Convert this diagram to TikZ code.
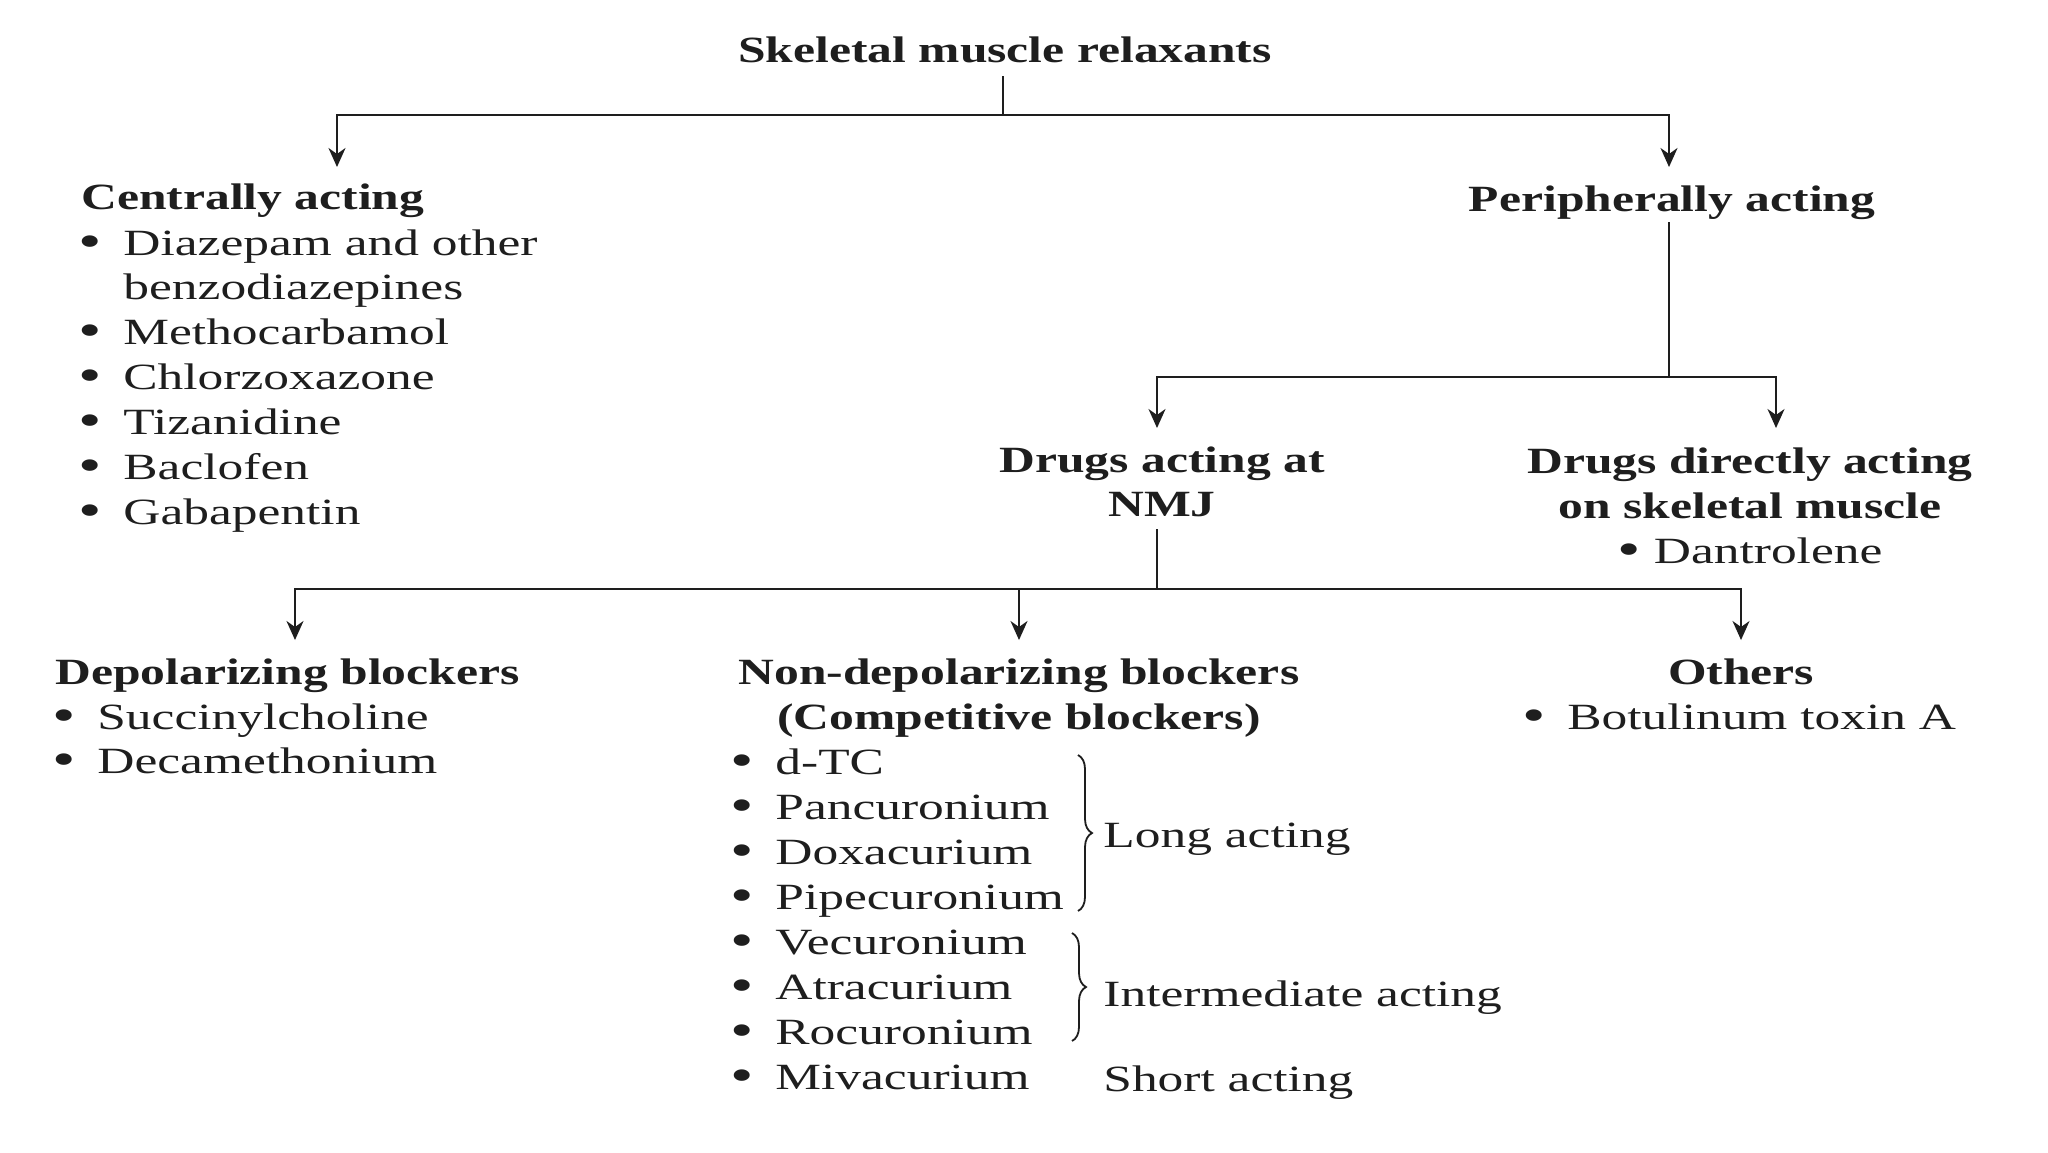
\documentclass[tikz,border=0pt]{standalone}
\usepackage{graphicx}
\usepackage{fontspec}
\setmainfont[FakeStretch=1.39]{Liberation Serif}
\newfontfamily\hdfont[FakeStretch=1.34]{Liberation Serif}
\usetikzlibrary{arrows.meta,decorations.pathreplacing}
\definecolor{ink}{HTML}{1E1E1E}
\newcommand\fsz{\fontsize{18.5}{22.5}\selectfont}
\newcommand\bigbul{\raisebox{-1.2pt}{\scalebox{1.3}{\textbullet}}}
\newcommand\bul{\makebox[22.5pt][l]{\bigbul}}
\tikzset{
  hdc/.style={inner sep=0pt, anchor=base, text=ink, font=\fsz\hdfont\bfseries},
  hdl/.style={hdc, anchor=base west},
  itm/.style={inner sep=0pt, anchor=base west, text=ink, font=\fsz},
  itc/.style={itm, anchor=base},
  conn/.style={draw=ink, line width=1pt},
  arr/.style={conn, -{Stealth[length=9.5pt,width=8.5pt,inset=3pt]}},
  brc/.style={draw=ink, line width=0.9pt, decorate, decoration={brace, amplitude=7pt}}
}
\begin{document}
\begin{tikzpicture}[x=0.5pt, y=-0.5pt]
\useasboundingbox[fill=white] (0,0) rectangle (2048,1152);

% headings and text
\node[hdc] (title) at (1005,62) {Skeletal muscle relaxants};

\node[hdl] (cen) at (81,209) {Centrally acting};
\node[itm] (c1) at (78,255) {\bul Diazepam and other};
\node[itm] (c1b) at (123,299) {benzodiazepines};
\node[itm] (c2) at (78,344) {\bul Methocarbamol};
\node[itm] (c3) at (78,389) {\bul Chlorzoxazone};
\node[itm] (c4) at (78,434) {\bul Tizanidine};
\node[itm] (c5) at (78,479) {\bul Baclofen};
\node[itm] (c6) at (78,524) {\bul Gabapentin};

\node[hdc] (per) at (1672,211) {Peripherally acting};

\node[hdc] (nmj) at (1162,472) {Drugs acting at};
\node[hdc] (nmjb) at (1162,516) {NMJ};

\node[hdc] (dir) at (1750,473) {Drugs directly acting};
\node[hdc] (dirb) at (1750,518) {on skeletal muscle};
\node[itc] (dan) at (1750,563) {\bigbul\ Dantrolene};

\node[hdl] (dep) at (55,684) {Depolarizing blockers};
\node[itm] (d1) at (52,729) {\bul Succinylcholine};
\node[itm] (d2) at (52,773) {\bul Decamethonium};

\node[hdc] (nd) at (1019,684) {Non-depolarizing blockers};
\node[hdc] (ndb) at (1019,729) {(Competitive blockers)};
\node[itm] (n1) at (730,774) {\bul d-TC};
\node[itm] (n2) at (730,819) {\bul Pancuronium};
\node[itm] (n3) at (730,864) {\bul Doxacurium};
\node[itm] (n4) at (730,909) {\bul Pipecuronium};
\node[itm] (n5) at (730,954) {\bul Vecuronium};
\node[itm] (n6) at (730,999) {\bul Atracurium};
\node[itm] (n7) at (730,1044) {\bul Rocuronium};
\node[itm] (n8) at (730,1089) {\bul Mivacurium};

\node[itm] (long) at (1103,847) {Long acting};
\node[itm] (inter) at (1103,1006) {Intermediate acting};
\node[itm] (short) at (1103,1091) {Short acting};

\node[hdc] (oth) at (1741,684) {Others};
\node[itm] (o1) at (1522,729) {\bul Botulinum toxin A};

% braces
\coordinate (lb1) at (1078,755);
\coordinate (lb2) at (1078,911);
\coordinate (ib1) at (1072,933);
\coordinate (ib2) at (1072,1041);
\draw[brc] (lb1) -- (lb2);
\draw[brc] (ib1) -- (ib2);

% connectors
\coordinate (t0) at (1003,76);
\coordinate (j1) at (1003,115);
\coordinate (ca) at (337,167);
\coordinate (pa) at (1669,167);
\draw[conn] (t0) -- (j1);
\draw[arr] (j1) -| (ca);
\draw[arr] (j1) -| (pa);

\coordinate (p0) at (1669,222);
\coordinate (j2) at (1669,377);
\coordinate (na) at (1157,428);
\coordinate (da) at (1776,428);
\draw[conn] (p0) -- (j2);
\draw[arr] (j2) -| (na);
\draw[arr] (j2) -| (da);

\coordinate (m0) at (1157,529);
\coordinate (j3) at (1157,589);
\coordinate (dpa) at (295,640);
\coordinate (nda) at (1019,640);
\coordinate (oa) at (1741,640);
\draw[conn] (m0) -- (j3);
\draw[arr] (j3) -| (dpa);
\draw[arr] (j3) -| (nda);
\draw[arr] (j3) -| (oa);
\end{tikzpicture}
\end{document}
